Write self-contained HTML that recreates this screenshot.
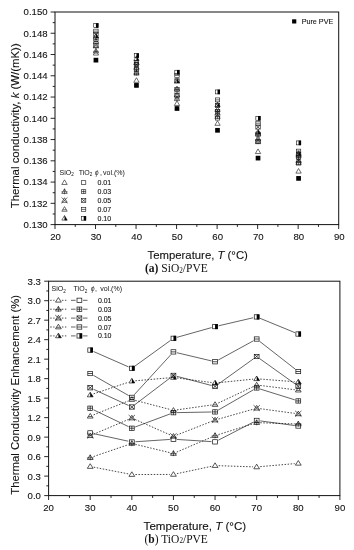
<!DOCTYPE html>
<html lang="en"><head><meta charset="utf-8"><title>Thermal conductivity figure</title>
<style>html,body{margin:0;padding:0;background:#fff}svg{display:block}</style>
</head><body>
<svg width="354" height="550" viewBox="0 0 354 550">
<rect width="354" height="550" fill="#fff"/>
<rect x="55.0" y="12.0" width="283.70" height="212.60" fill="none" stroke="#111" stroke-width="1"/>
<path d="M55.00 224.6v4.4M75.26 224.6v2.3M95.53 224.6v4.4M115.79 224.6v2.3M136.06 224.6v4.4M156.32 224.6v2.3M176.59 224.6v4.4M196.85 224.6v2.3M217.11 224.6v4.4M237.38 224.6v2.3M257.64 224.6v4.4M277.91 224.6v2.3M298.17 224.6v4.4M318.44 224.6v2.3M338.70 224.6v4.4M55.0 224.60h-4.4M55.0 213.97h-2.3M55.0 203.34h-4.4M55.0 192.71h-2.3M55.0 182.08h-4.4M55.0 171.45h-2.3M55.0 160.82h-4.4M55.0 150.19h-2.3M55.0 139.56h-4.4M55.0 128.93h-2.3M55.0 118.30h-4.4M55.0 107.67h-2.3M55.0 97.04h-4.4M55.0 86.41h-2.3M55.0 75.78h-4.4M55.0 65.15h-2.3M55.0 54.52h-4.4M55.0 43.89h-2.3M55.0 33.26h-4.4M55.0 22.63h-2.3M55.0 12.00h-4.4" stroke="#111" stroke-width="0.9" fill="none"/>
<text x="55.60" y="239.60" font-size="9.6" text-anchor="middle" font-family='"Liberation Sans", Arial, Helvetica, sans-serif' fill="#111" stroke="#111" stroke-width="0.1" >20</text>
<text x="96.13" y="239.60" font-size="9.6" text-anchor="middle" font-family='"Liberation Sans", Arial, Helvetica, sans-serif' fill="#111" stroke="#111" stroke-width="0.1" >30</text>
<text x="136.66" y="239.60" font-size="9.6" text-anchor="middle" font-family='"Liberation Sans", Arial, Helvetica, sans-serif' fill="#111" stroke="#111" stroke-width="0.1" >40</text>
<text x="177.19" y="239.60" font-size="9.6" text-anchor="middle" font-family='"Liberation Sans", Arial, Helvetica, sans-serif' fill="#111" stroke="#111" stroke-width="0.1" >50</text>
<text x="217.71" y="239.60" font-size="9.6" text-anchor="middle" font-family='"Liberation Sans", Arial, Helvetica, sans-serif' fill="#111" stroke="#111" stroke-width="0.1" >60</text>
<text x="258.24" y="239.60" font-size="9.6" text-anchor="middle" font-family='"Liberation Sans", Arial, Helvetica, sans-serif' fill="#111" stroke="#111" stroke-width="0.1" >70</text>
<text x="298.77" y="239.60" font-size="9.6" text-anchor="middle" font-family='"Liberation Sans", Arial, Helvetica, sans-serif' fill="#111" stroke="#111" stroke-width="0.1" >80</text>
<text x="339.30" y="239.60" font-size="9.6" text-anchor="middle" font-family='"Liberation Sans", Arial, Helvetica, sans-serif' fill="#111" stroke="#111" stroke-width="0.1" >90</text>
<text x="47.60" y="228.00" font-size="9.6" text-anchor="end" font-family='"Liberation Sans", Arial, Helvetica, sans-serif' fill="#111" stroke="#111" stroke-width="0.1" >0.130</text>
<text x="47.60" y="206.74" font-size="9.6" text-anchor="end" font-family='"Liberation Sans", Arial, Helvetica, sans-serif' fill="#111" stroke="#111" stroke-width="0.1" >0.132</text>
<text x="47.60" y="185.48" font-size="9.6" text-anchor="end" font-family='"Liberation Sans", Arial, Helvetica, sans-serif' fill="#111" stroke="#111" stroke-width="0.1" >0.134</text>
<text x="47.60" y="164.22" font-size="9.6" text-anchor="end" font-family='"Liberation Sans", Arial, Helvetica, sans-serif' fill="#111" stroke="#111" stroke-width="0.1" >0.136</text>
<text x="47.60" y="142.96" font-size="9.6" text-anchor="end" font-family='"Liberation Sans", Arial, Helvetica, sans-serif' fill="#111" stroke="#111" stroke-width="0.1" >0.138</text>
<text x="47.60" y="121.70" font-size="9.6" text-anchor="end" font-family='"Liberation Sans", Arial, Helvetica, sans-serif' fill="#111" stroke="#111" stroke-width="0.1" >0.140</text>
<text x="47.60" y="100.44" font-size="9.6" text-anchor="end" font-family='"Liberation Sans", Arial, Helvetica, sans-serif' fill="#111" stroke="#111" stroke-width="0.1" >0.142</text>
<text x="47.60" y="79.18" font-size="9.6" text-anchor="end" font-family='"Liberation Sans", Arial, Helvetica, sans-serif' fill="#111" stroke="#111" stroke-width="0.1" >0.144</text>
<text x="47.60" y="57.92" font-size="9.6" text-anchor="end" font-family='"Liberation Sans", Arial, Helvetica, sans-serif' fill="#111" stroke="#111" stroke-width="0.1" >0.146</text>
<text x="47.60" y="36.66" font-size="9.6" text-anchor="end" font-family='"Liberation Sans", Arial, Helvetica, sans-serif' fill="#111" stroke="#111" stroke-width="0.1" >0.148</text>
<text x="47.60" y="15.40" font-size="9.6" text-anchor="end" font-family='"Liberation Sans", Arial, Helvetica, sans-serif' fill="#111" stroke="#111" stroke-width="0.1" >0.150</text>
<text x="197.70" y="259.20" font-size="11.35" text-anchor="middle" font-family='"Liberation Sans", Arial, Helvetica, sans-serif' fill="#111" stroke="#111" stroke-width="0.1" >Temperature, <tspan font-style="italic">T</tspan> (°C)</text>
<text transform="translate(18.7 125.8) rotate(-90)" font-size="11.4" text-anchor="middle" font-family='"Liberation Sans", Arial, Helvetica, sans-serif' fill="#111" stroke="#111" stroke-width="0.1">Thermal conductivity, <tspan font-style="italic">k</tspan> (W/(mK))</text>
<text x="145" y="272.1" font-size="11.5" font-family='"Liberation Serif", "Times New Roman", serif' fill="#111"><tspan font-weight="bold">(a)</tspan> SiO<tspan font-size="7.2" dy="0.5">2</tspan><tspan dy="-0.5">/PVE</tspan></text>
<rect x="93.58" y="57.80" width="4.70" height="4.70" fill="#000"/>
<polygon points="95.93,50.47 98.58,55.07 93.28,55.07" fill="none" stroke="#111" stroke-width="0.6" stroke-linejoin="miter"/>
<polygon points="95.93,48.36 98.58,52.96 93.28,52.96" fill="none" stroke="#111" stroke-width="0.6" stroke-linejoin="miter"/><path d="M93.12 51.32H98.74M95.93 48.16V53.28" stroke="#111" stroke-width="0.54" fill="none"/>
<polygon points="95.93,43.14 98.58,47.74 93.28,47.74" fill="none" stroke="#111" stroke-width="0.6" stroke-linejoin="miter"/><path d="M93.16 43.02L98.70 48.10M98.70 43.02L93.16 48.10" stroke="#111" stroke-width="0.54" fill="none"/>
<polygon points="95.93,38.50 98.58,43.10 93.28,43.10" fill="none" stroke="#111" stroke-width="0.6" stroke-linejoin="miter"/><path d="M94.17 41.56H97.69" stroke="#111" stroke-width="0.54" fill="none"/>
<polygon points="95.93,33.44 98.58,38.04 93.28,38.04" fill="none" stroke="#111" stroke-width="0.6" stroke-linejoin="miter"/><polygon points="95.93,33.44 98.58,38.04 95.93,38.04" fill="#000"/>
<rect x="93.73" y="43.25" width="4.40" height="3.96" fill="none" stroke="#111" stroke-width="0.6"/>
<rect x="93.73" y="37.38" width="4.40" height="3.96" fill="none" stroke="#111" stroke-width="0.6"/><path d="M93.73 39.36H98.13M95.93 37.38V41.34" stroke="#111" stroke-width="0.63" fill="none"/>
<rect x="93.73" y="32.50" width="4.40" height="3.96" fill="none" stroke="#111" stroke-width="0.6"/><path d="M93.73 32.50L98.13 36.46M98.13 32.50L93.73 36.46" stroke="#111" stroke-width="0.63" fill="none"/>
<rect x="93.73" y="29.12" width="4.40" height="3.96" fill="none" stroke="#111" stroke-width="0.6"/><path d="M93.73 31.10H98.13" stroke="#111" stroke-width="0.63" fill="none"/>
<rect x="93.73" y="23.54" width="4.40" height="3.96" fill="none" stroke="#111" stroke-width="0.6"/><rect x="95.93" y="23.24" width="2.50" height="4.56" fill="#000"/>
<rect x="134.11" y="83.05" width="4.70" height="4.70" fill="#000"/>
<polygon points="136.46,77.71 139.11,82.31 133.81,82.31" fill="none" stroke="#111" stroke-width="0.6" stroke-linejoin="miter"/>
<polygon points="136.46,70.44 139.11,75.04 133.81,75.04" fill="none" stroke="#111" stroke-width="0.6" stroke-linejoin="miter"/><path d="M133.65 73.40H139.27M136.46 70.24V75.36" stroke="#111" stroke-width="0.54" fill="none"/>
<polygon points="136.46,64.48 139.11,69.08 133.81,69.08" fill="none" stroke="#111" stroke-width="0.6" stroke-linejoin="miter"/><path d="M133.69 64.36L139.23 69.44M139.23 64.36L133.69 69.44" stroke="#111" stroke-width="0.54" fill="none"/>
<polygon points="136.46,60.14 139.11,64.74 133.81,64.74" fill="none" stroke="#111" stroke-width="0.6" stroke-linejoin="miter"/><path d="M134.69 63.20H138.22" stroke="#111" stroke-width="0.54" fill="none"/>
<polygon points="136.46,55.84 139.11,60.44 133.81,60.44" fill="none" stroke="#111" stroke-width="0.6" stroke-linejoin="miter"/><polygon points="136.46,55.84 139.11,60.44 136.46,60.44" fill="#000"/>
<rect x="134.26" y="70.87" width="4.40" height="3.96" fill="none" stroke="#111" stroke-width="0.6"/>
<rect x="134.26" y="67.65" width="4.40" height="3.96" fill="none" stroke="#111" stroke-width="0.6"/><path d="M134.26 69.63H138.66M136.46 67.65V71.61" stroke="#111" stroke-width="0.63" fill="none"/>
<rect x="134.26" y="62.67" width="4.40" height="3.96" fill="none" stroke="#111" stroke-width="0.6"/><path d="M134.26 62.67L138.66 66.63M138.66 62.67L134.26 66.63" stroke="#111" stroke-width="0.63" fill="none"/>
<rect x="134.26" y="60.42" width="4.40" height="3.96" fill="none" stroke="#111" stroke-width="0.6"/><path d="M134.26 62.40H138.66" stroke="#111" stroke-width="0.63" fill="none"/>
<rect x="134.26" y="53.62" width="4.40" height="3.96" fill="none" stroke="#111" stroke-width="0.6"/><rect x="136.46" y="53.32" width="2.50" height="4.56" fill="#000"/>
<rect x="174.64" y="106.15" width="4.70" height="4.70" fill="#000"/>
<polygon points="176.99,100.86 179.64,105.46 174.34,105.46" fill="none" stroke="#111" stroke-width="0.6" stroke-linejoin="miter"/>
<polygon points="176.99,96.03 179.64,100.63 174.34,100.63" fill="none" stroke="#111" stroke-width="0.6" stroke-linejoin="miter"/><path d="M174.18 98.99H179.80M176.99 95.83V100.95" stroke="#111" stroke-width="0.54" fill="none"/>
<polygon points="176.99,92.08 179.64,96.68 174.34,96.68" fill="none" stroke="#111" stroke-width="0.6" stroke-linejoin="miter"/><path d="M174.22 91.96L179.76 97.04M179.76 91.96L174.22 97.04" stroke="#111" stroke-width="0.54" fill="none"/>
<polygon points="176.99,86.09 179.64,90.69 174.34,90.69" fill="none" stroke="#111" stroke-width="0.6" stroke-linejoin="miter"/><path d="M175.22 89.15H178.75" stroke="#111" stroke-width="0.54" fill="none"/>
<polygon points="176.99,78.49 179.64,83.09 174.34,83.09" fill="none" stroke="#111" stroke-width="0.6" stroke-linejoin="miter"/><polygon points="176.99,78.49 179.64,83.09 176.99,83.09" fill="#000"/>
<rect x="174.79" y="93.52" width="4.40" height="3.96" fill="none" stroke="#111" stroke-width="0.6"/>
<rect x="174.79" y="87.40" width="4.40" height="3.96" fill="none" stroke="#111" stroke-width="0.6"/><path d="M174.79 89.38H179.19M176.99 87.40V91.36" stroke="#111" stroke-width="0.63" fill="none"/>
<rect x="174.79" y="78.81" width="4.40" height="3.96" fill="none" stroke="#111" stroke-width="0.6"/><path d="M174.79 78.81L179.19 82.77M179.19 78.81L174.79 82.77" stroke="#111" stroke-width="0.63" fill="none"/>
<rect x="174.79" y="73.38" width="4.40" height="3.96" fill="none" stroke="#111" stroke-width="0.6"/><path d="M174.79 75.36H179.19" stroke="#111" stroke-width="0.63" fill="none"/>
<rect x="174.79" y="70.25" width="4.40" height="3.96" fill="none" stroke="#111" stroke-width="0.6"/><rect x="176.99" y="69.95" width="2.50" height="4.56" fill="#000"/>
<rect x="215.16" y="127.95" width="4.70" height="4.70" fill="#000"/>
<polygon points="217.51,120.72 220.16,125.32 214.86,125.32" fill="none" stroke="#111" stroke-width="0.6" stroke-linejoin="miter"/>
<polygon points="217.51,113.92 220.16,118.52 214.86,118.52" fill="none" stroke="#111" stroke-width="0.6" stroke-linejoin="miter"/><path d="M214.70 116.88H220.32M217.51 113.72V118.84" stroke="#111" stroke-width="0.54" fill="none"/>
<polygon points="217.51,110.37 220.16,114.97 214.86,114.97" fill="none" stroke="#111" stroke-width="0.6" stroke-linejoin="miter"/><path d="M214.74 110.25L220.28 115.33M220.28 110.25L214.74 115.33" stroke="#111" stroke-width="0.54" fill="none"/>
<polygon points="217.51,106.84 220.16,111.44 214.86,111.44" fill="none" stroke="#111" stroke-width="0.6" stroke-linejoin="miter"/><path d="M215.75 109.90H219.28" stroke="#111" stroke-width="0.54" fill="none"/>
<polygon points="217.51,101.96 220.16,106.56 214.86,106.56" fill="none" stroke="#111" stroke-width="0.6" stroke-linejoin="miter"/><polygon points="217.51,101.96 220.16,106.56 217.51,106.56" fill="#000"/>
<rect x="215.31" y="116.11" width="4.40" height="3.96" fill="none" stroke="#111" stroke-width="0.6"/>
<rect x="215.31" y="109.31" width="4.40" height="3.96" fill="none" stroke="#111" stroke-width="0.6"/><path d="M215.31 111.29H219.71M217.51 109.31V113.27" stroke="#111" stroke-width="0.63" fill="none"/>
<rect x="215.31" y="103.52" width="4.40" height="3.96" fill="none" stroke="#111" stroke-width="0.6"/><path d="M215.31 103.52L219.71 107.48M219.71 103.52L215.31 107.48" stroke="#111" stroke-width="0.63" fill="none"/>
<rect x="215.31" y="97.91" width="4.40" height="3.96" fill="none" stroke="#111" stroke-width="0.6"/><path d="M215.31 99.89H219.71" stroke="#111" stroke-width="0.63" fill="none"/>
<rect x="215.31" y="89.93" width="4.40" height="3.96" fill="none" stroke="#111" stroke-width="0.6"/><rect x="217.51" y="89.63" width="2.50" height="4.56" fill="#000"/>
<rect x="255.69" y="155.75" width="4.70" height="4.70" fill="#000"/>
<polygon points="258.04,148.95 260.69,153.55 255.39,153.55" fill="none" stroke="#111" stroke-width="0.6" stroke-linejoin="miter"/>
<polygon points="258.04,139.07 260.69,143.67 255.39,143.67" fill="none" stroke="#111" stroke-width="0.6" stroke-linejoin="miter"/><path d="M255.23 142.03H260.85M258.04 138.87V143.99" stroke="#111" stroke-width="0.54" fill="none"/>
<polygon points="258.04,135.86 260.69,140.46 255.39,140.46" fill="none" stroke="#111" stroke-width="0.6" stroke-linejoin="miter"/><path d="M255.27 135.74L260.81 140.82M260.81 135.74L255.27 140.82" stroke="#111" stroke-width="0.54" fill="none"/>
<polygon points="258.04,130.69 260.69,135.29 255.39,135.29" fill="none" stroke="#111" stroke-width="0.6" stroke-linejoin="miter"/><path d="M256.28 133.75H259.81" stroke="#111" stroke-width="0.54" fill="none"/>
<polygon points="258.04,129.30 260.69,133.90 255.39,133.90" fill="none" stroke="#111" stroke-width="0.6" stroke-linejoin="miter"/><polygon points="258.04,129.30 260.69,133.90 258.04,133.90" fill="#000"/>
<rect x="255.84" y="139.36" width="4.40" height="3.96" fill="none" stroke="#111" stroke-width="0.6"/>
<rect x="255.84" y="132.12" width="4.40" height="3.96" fill="none" stroke="#111" stroke-width="0.6"/><path d="M255.84 134.10H260.24M258.04 132.12V136.08" stroke="#111" stroke-width="0.63" fill="none"/>
<rect x="255.84" y="125.11" width="4.40" height="3.96" fill="none" stroke="#111" stroke-width="0.6"/><path d="M255.84 125.11L260.24 129.07M260.24 125.11L255.84 129.07" stroke="#111" stroke-width="0.63" fill="none"/>
<rect x="255.84" y="121.21" width="4.40" height="3.96" fill="none" stroke="#111" stroke-width="0.6"/><path d="M255.84 123.19H260.24" stroke="#111" stroke-width="0.63" fill="none"/>
<rect x="255.84" y="116.29" width="4.40" height="3.96" fill="none" stroke="#111" stroke-width="0.6"/><rect x="258.04" y="115.99" width="2.50" height="4.56" fill="#000"/>
<rect x="296.22" y="176.05" width="4.70" height="4.70" fill="#000"/>
<polygon points="298.57,168.54 301.22,173.14 295.92,173.14" fill="none" stroke="#111" stroke-width="0.6" stroke-linejoin="miter"/>
<polygon points="298.57,159.90 301.22,164.50 295.92,164.50" fill="none" stroke="#111" stroke-width="0.6" stroke-linejoin="miter"/><path d="M295.76 162.86H301.38M298.57 159.70V164.82" stroke="#111" stroke-width="0.54" fill="none"/>
<polygon points="298.57,157.68 301.22,162.28 295.92,162.28" fill="none" stroke="#111" stroke-width="0.6" stroke-linejoin="miter"/><path d="M295.80 157.56L301.34 162.64M301.34 157.56L295.80 162.64" stroke="#111" stroke-width="0.54" fill="none"/>
<polygon points="298.57,152.46 301.22,157.06 295.92,157.06" fill="none" stroke="#111" stroke-width="0.6" stroke-linejoin="miter"/><path d="M296.81 155.52H300.33" stroke="#111" stroke-width="0.54" fill="none"/>
<polygon points="298.57,150.68 301.22,155.28 295.92,155.28" fill="none" stroke="#111" stroke-width="0.6" stroke-linejoin="miter"/><polygon points="298.57,150.68 301.22,155.28 298.57,155.28" fill="#000"/>
<rect x="296.37" y="161.13" width="4.40" height="3.96" fill="none" stroke="#111" stroke-width="0.6"/>
<rect x="296.37" y="155.61" width="4.40" height="3.96" fill="none" stroke="#111" stroke-width="0.6"/><path d="M296.37 157.59H300.77M298.57 155.61V159.57" stroke="#111" stroke-width="0.63" fill="none"/>
<rect x="296.37" y="152.37" width="4.40" height="3.96" fill="none" stroke="#111" stroke-width="0.6"/><path d="M296.37 152.37L300.77 156.33M300.77 152.37L296.37 156.33" stroke="#111" stroke-width="0.63" fill="none"/>
<rect x="296.37" y="149.15" width="4.40" height="3.96" fill="none" stroke="#111" stroke-width="0.6"/><path d="M296.37 151.13H300.77" stroke="#111" stroke-width="0.63" fill="none"/>
<rect x="296.37" y="140.91" width="4.40" height="3.96" fill="none" stroke="#111" stroke-width="0.6"/><rect x="298.57" y="140.61" width="2.50" height="4.56" fill="#000"/>
<rect x="292.10" y="19.30" width="4.20" height="4.20" fill="#000"/>
<text x="301.70" y="23.90" font-size="7.2" text-anchor="start" font-family='"Liberation Sans", Arial, Helvetica, sans-serif' fill="#111" stroke="#111" stroke-width="0.1" >Pure PVE</text>
<text x="59.5" y="174.8" font-size="7.0" font-family='"Liberation Sans", Arial, Helvetica, sans-serif' fill="#111">SiO<tspan font-size="4.6" dy="1.6">2</tspan></text>
<text x="78.7" y="174.8" font-size="7.0" font-family='"Liberation Sans", Arial, Helvetica, sans-serif' fill="#111">TiO<tspan font-size="4.6" dy="1.6">2</tspan></text>
<text y="174.8" font-size="7.0" font-family='"Liberation Sans", Arial, Helvetica, sans-serif' fill="#111"><tspan x="94.8" font-style="italic" fill="#333">ϕ</tspan><tspan x="100.0">,</tspan><tspan x="103.0">vol.(%)</tspan></text>
<polygon points="64.50,179.84 67.20,184.44 61.80,184.44" fill="none" stroke="#111" stroke-width="0.6" stroke-linejoin="miter"/>
<rect x="81.60" y="180.71" width="4.20" height="3.78" fill="none" stroke="#111" stroke-width="0.6"/>
<text x="97.50" y="185.10" font-size="7.0" text-anchor="start" font-family='"Liberation Sans", Arial, Helvetica, sans-serif' fill="#111" stroke="#111" stroke-width="0.1" >0.01</text>
<polygon points="64.50,188.84 67.20,193.44 61.80,193.44" fill="none" stroke="#111" stroke-width="0.6" stroke-linejoin="miter"/><path d="M61.40 191.80H67.60M64.50 188.64V194.24" stroke="#111" stroke-width="0.54" fill="none"/>
<rect x="81.60" y="189.71" width="4.20" height="3.78" fill="none" stroke="#111" stroke-width="0.6"/><path d="M81.60 191.60H85.80M83.70 189.71V193.49" stroke="#111" stroke-width="0.63" fill="none"/>
<text x="97.50" y="194.10" font-size="7.0" text-anchor="start" font-family='"Liberation Sans", Arial, Helvetica, sans-serif' fill="#111" stroke="#111" stroke-width="0.1" >0.03</text>
<polygon points="64.50,197.74 67.20,202.34 61.80,202.34" fill="none" stroke="#111" stroke-width="0.6" stroke-linejoin="miter"/><path d="M61.50 197.44L67.50 203.24M67.50 197.44L61.50 203.24" stroke="#111" stroke-width="0.54" fill="none"/>
<rect x="81.60" y="198.61" width="4.20" height="3.78" fill="none" stroke="#111" stroke-width="0.6"/><path d="M81.60 198.61L85.80 202.39M85.80 198.61L81.60 202.39" stroke="#111" stroke-width="0.63" fill="none"/>
<text x="97.50" y="203.00" font-size="7.0" text-anchor="start" font-family='"Liberation Sans", Arial, Helvetica, sans-serif' fill="#111" stroke="#111" stroke-width="0.1" >0.05</text>
<polygon points="64.50,206.64 67.20,211.24 61.80,211.24" fill="none" stroke="#111" stroke-width="0.6" stroke-linejoin="miter"/><path d="M62.70 209.70H66.30" stroke="#111" stroke-width="0.54" fill="none"/>
<rect x="81.60" y="207.51" width="4.20" height="3.78" fill="none" stroke="#111" stroke-width="0.6"/><path d="M81.60 209.40H85.80" stroke="#111" stroke-width="0.63" fill="none"/>
<text x="97.50" y="211.90" font-size="7.0" text-anchor="start" font-family='"Liberation Sans", Arial, Helvetica, sans-serif' fill="#111" stroke="#111" stroke-width="0.1" >0.07</text>
<polygon points="64.50,215.54 67.20,220.14 61.80,220.14" fill="none" stroke="#111" stroke-width="0.6" stroke-linejoin="miter"/><polygon points="64.50,215.54 67.20,220.14 64.50,220.14" fill="#000"/>
<rect x="81.60" y="216.41" width="4.20" height="3.78" fill="none" stroke="#111" stroke-width="0.6"/><rect x="83.70" y="216.11" width="2.40" height="4.38" fill="#000"/>
<text x="97.50" y="220.80" font-size="7.0" text-anchor="start" font-family='"Liberation Sans", Arial, Helvetica, sans-serif' fill="#111" stroke="#111" stroke-width="0.1" >0.10</text>
<rect x="48.6" y="281.2" width="291.30" height="214.40" fill="none" stroke="#111" stroke-width="1"/>
<path d="M48.60 495.6v4.4M69.41 495.6v2.3M90.21 495.6v4.4M111.02 495.6v2.3M131.83 495.6v4.4M152.64 495.6v2.3M173.44 495.6v4.4M194.25 495.6v2.3M215.06 495.6v4.4M235.86 495.6v2.3M256.67 495.6v4.4M277.48 495.6v2.3M298.29 495.6v4.4M319.09 495.6v2.3M339.90 495.6v4.4M48.6 495.60h-4.4M48.6 485.85h-2.3M48.6 476.11h-4.4M48.6 466.36h-2.3M48.6 456.62h-4.4M48.6 446.87h-2.3M48.6 437.13h-4.4M48.6 427.38h-2.3M48.6 417.64h-4.4M48.6 407.89h-2.3M48.6 398.15h-4.4M48.6 388.40h-2.3M48.6 378.65h-4.4M48.6 368.91h-2.3M48.6 359.16h-4.4M48.6 349.42h-2.3M48.6 339.67h-4.4M48.6 329.93h-2.3M48.6 320.18h-4.4M48.6 310.44h-2.3M48.6 300.69h-4.4M48.6 290.95h-2.3M48.6 281.20h-4.4" stroke="#111" stroke-width="0.9" fill="none"/>
<text x="48.60" y="510.60" font-size="9.6" text-anchor="middle" font-family='"Liberation Sans", Arial, Helvetica, sans-serif' fill="#111" stroke="#111" stroke-width="0.1" >20</text>
<text x="90.21" y="510.60" font-size="9.6" text-anchor="middle" font-family='"Liberation Sans", Arial, Helvetica, sans-serif' fill="#111" stroke="#111" stroke-width="0.1" >30</text>
<text x="131.83" y="510.60" font-size="9.6" text-anchor="middle" font-family='"Liberation Sans", Arial, Helvetica, sans-serif' fill="#111" stroke="#111" stroke-width="0.1" >40</text>
<text x="173.44" y="510.60" font-size="9.6" text-anchor="middle" font-family='"Liberation Sans", Arial, Helvetica, sans-serif' fill="#111" stroke="#111" stroke-width="0.1" >50</text>
<text x="215.06" y="510.60" font-size="9.6" text-anchor="middle" font-family='"Liberation Sans", Arial, Helvetica, sans-serif' fill="#111" stroke="#111" stroke-width="0.1" >60</text>
<text x="256.67" y="510.60" font-size="9.6" text-anchor="middle" font-family='"Liberation Sans", Arial, Helvetica, sans-serif' fill="#111" stroke="#111" stroke-width="0.1" >70</text>
<text x="298.29" y="510.60" font-size="9.6" text-anchor="middle" font-family='"Liberation Sans", Arial, Helvetica, sans-serif' fill="#111" stroke="#111" stroke-width="0.1" >80</text>
<text x="339.90" y="510.60" font-size="9.6" text-anchor="middle" font-family='"Liberation Sans", Arial, Helvetica, sans-serif' fill="#111" stroke="#111" stroke-width="0.1" >90</text>
<text x="40.90" y="499.00" font-size="9.6" text-anchor="end" font-family='"Liberation Sans", Arial, Helvetica, sans-serif' fill="#111" stroke="#111" stroke-width="0.1" >0.0</text>
<text x="40.90" y="479.51" font-size="9.6" text-anchor="end" font-family='"Liberation Sans", Arial, Helvetica, sans-serif' fill="#111" stroke="#111" stroke-width="0.1" >0.3</text>
<text x="40.90" y="460.02" font-size="9.6" text-anchor="end" font-family='"Liberation Sans", Arial, Helvetica, sans-serif' fill="#111" stroke="#111" stroke-width="0.1" >0.6</text>
<text x="40.90" y="440.53" font-size="9.6" text-anchor="end" font-family='"Liberation Sans", Arial, Helvetica, sans-serif' fill="#111" stroke="#111" stroke-width="0.1" >0.9</text>
<text x="40.90" y="421.04" font-size="9.6" text-anchor="end" font-family='"Liberation Sans", Arial, Helvetica, sans-serif' fill="#111" stroke="#111" stroke-width="0.1" >1.2</text>
<text x="40.90" y="401.55" font-size="9.6" text-anchor="end" font-family='"Liberation Sans", Arial, Helvetica, sans-serif' fill="#111" stroke="#111" stroke-width="0.1" >1.5</text>
<text x="40.90" y="382.05" font-size="9.6" text-anchor="end" font-family='"Liberation Sans", Arial, Helvetica, sans-serif' fill="#111" stroke="#111" stroke-width="0.1" >1.8</text>
<text x="40.90" y="362.56" font-size="9.6" text-anchor="end" font-family='"Liberation Sans", Arial, Helvetica, sans-serif' fill="#111" stroke="#111" stroke-width="0.1" >2.1</text>
<text x="40.90" y="343.07" font-size="9.6" text-anchor="end" font-family='"Liberation Sans", Arial, Helvetica, sans-serif' fill="#111" stroke="#111" stroke-width="0.1" >2.4</text>
<text x="40.90" y="323.58" font-size="9.6" text-anchor="end" font-family='"Liberation Sans", Arial, Helvetica, sans-serif' fill="#111" stroke="#111" stroke-width="0.1" >2.7</text>
<text x="40.90" y="304.09" font-size="9.6" text-anchor="end" font-family='"Liberation Sans", Arial, Helvetica, sans-serif' fill="#111" stroke="#111" stroke-width="0.1" >3.0</text>
<text x="40.90" y="284.60" font-size="9.6" text-anchor="end" font-family='"Liberation Sans", Arial, Helvetica, sans-serif' fill="#111" stroke="#111" stroke-width="0.1" >3.3</text>
<text x="194.90" y="530.30" font-size="11.6" text-anchor="middle" font-family='"Liberation Sans", Arial, Helvetica, sans-serif' fill="#111" stroke="#111" stroke-width="0.1" >Temperature, <tspan font-style="italic">T</tspan> (°C)</text>
<text transform="translate(18.8 394.8) rotate(-90)" font-size="11.3" text-anchor="middle" font-family='"Liberation Sans", Arial, Helvetica, sans-serif' fill="#111" stroke="#111" stroke-width="0.1">Thermal Conductivity Enhancement (%)</text>
<text x="144.5" y="542.5" font-size="11.5" font-family='"Liberation Serif", "Times New Roman", serif' fill="#111">(<tspan font-weight="bold">b</tspan>) TiO<tspan font-size="7.2" dy="0.5">2</tspan><tspan dy="-0.5">/PVE</tspan></text>
<path d="M93.75 467.18L128.29 473.87M135.43 474.54L169.84 474.43M176.96 473.67L211.54 466.33M218.66 465.70L253.07 466.83M260.26 466.63L294.70 463.62" stroke="#111" stroke-width="0.77" stroke-dasharray="1.5 1.55" fill="none"/>
<path d="M93.62 456.50L128.42 444.65M135.33 444.34L169.94 452.66M176.75 452.08L211.75 437.05M218.49 434.56L253.24 423.71M260.27 422.76L294.69 423.89" stroke="#111" stroke-width="0.77" stroke-dasharray="1.5 1.55" fill="none"/>
<path d="M93.53 434.29L128.51 419.43M135.12 419.48L170.15 434.90M176.79 435.03L211.71 421.35M218.52 419.06L253.21 409.20M260.24 408.70L294.72 413.38" stroke="#111" stroke-width="0.77" stroke-dasharray="1.5 1.55" fill="none"/>
<path d="M93.56 414.87L128.49 400.85M135.31 400.42L169.96 409.45M177.01 409.86L211.49 405.01M218.32 402.99L253.41 386.55M260.24 385.46L294.71 389.71" stroke="#111" stroke-width="0.77" stroke-dasharray="1.5 1.55" fill="none"/>
<path d="M93.63 393.83L128.41 382.26M135.41 380.80L169.86 377.74M177.01 377.90L211.49 382.53M218.64 382.64L253.09 379.15M260.26 379.06L294.70 381.75" stroke="#111" stroke-width="0.77" stroke-dasharray="1.5 1.55" fill="none"/>
<path d="M93.73 433.67L128.31 441.23M135.42 441.76L169.85 439.45M177.04 439.44L211.46 441.64M218.26 440.22L253.47 422.08M260.24 420.91L294.72 425.54" stroke="#111" stroke-width="0.65" fill="none"/>
<path d="M93.46 409.78L128.58 426.67M135.20 426.97L170.07 413.96M177.04 412.63L211.46 411.99M218.18 410.12L253.55 389.74M260.11 389.02L294.85 399.87" stroke="#111" stroke-width="0.65" fill="none"/>
<path d="M93.48 389.26L128.56 405.47M134.70 404.81L170.57 377.58M176.92 376.33L211.58 385.53M217.98 384.35L253.75 358.60M259.60 358.59L295.36 384.10" stroke="#111" stroke-width="0.65" fill="none"/>
<path d="M93.34 375.31L128.70 395.58M134.26 394.71L171.01 354.54M176.95 352.72L211.55 360.93M218.22 360.04L253.51 340.75M259.51 341.24L295.45 369.29" stroke="#111" stroke-width="0.65" fill="none"/>
<path d="M93.51 351.51L128.53 366.88M134.75 366.22L170.52 340.41M176.91 337.33L211.59 327.59M218.56 325.80L253.17 317.75M260.00 318.30L294.96 332.65" stroke="#111" stroke-width="0.65" fill="none"/>
<polygon points="90.21,463.73 93.11,468.33 87.31,468.33" fill="none" stroke="#111" stroke-width="0.7" stroke-linejoin="miter"/>
<polygon points="131.83,471.79 134.73,476.39 128.93,476.39" fill="none" stroke="#111" stroke-width="0.7" stroke-linejoin="miter"/>
<polygon points="173.44,471.66 176.34,476.26 170.54,476.26" fill="none" stroke="#111" stroke-width="0.7" stroke-linejoin="miter"/>
<polygon points="215.06,462.82 217.96,467.42 212.16,467.42" fill="none" stroke="#111" stroke-width="0.7" stroke-linejoin="miter"/>
<polygon points="256.67,464.19 259.57,468.79 253.77,468.79" fill="none" stroke="#111" stroke-width="0.7" stroke-linejoin="miter"/>
<polygon points="298.29,460.55 301.19,465.15 295.39,465.15" fill="none" stroke="#111" stroke-width="0.7" stroke-linejoin="miter"/>
<polygon points="90.21,454.90 93.11,459.50 87.31,459.50" fill="none" stroke="#111" stroke-width="0.7" stroke-linejoin="miter"/><path d="M86.91 457.86H93.51M90.21 454.70V460.30" stroke="#111" stroke-width="0.63" fill="none"/>
<polygon points="131.83,440.73 134.73,445.33 128.93,445.33" fill="none" stroke="#111" stroke-width="0.7" stroke-linejoin="miter"/><path d="M128.53 443.69H135.13M131.83 440.53V446.13" stroke="#111" stroke-width="0.63" fill="none"/>
<polygon points="173.44,450.74 176.34,455.34 170.54,455.34" fill="none" stroke="#111" stroke-width="0.7" stroke-linejoin="miter"/><path d="M170.14 453.70H176.74M173.44 450.54V456.14" stroke="#111" stroke-width="0.63" fill="none"/>
<polygon points="215.06,432.87 217.96,437.47 212.16,437.47" fill="none" stroke="#111" stroke-width="0.7" stroke-linejoin="miter"/><path d="M211.76 435.83H218.36M215.06 432.67V438.27" stroke="#111" stroke-width="0.63" fill="none"/>
<polygon points="256.67,419.88 259.57,424.48 253.77,424.48" fill="none" stroke="#111" stroke-width="0.7" stroke-linejoin="miter"/><path d="M253.37 422.84H259.97M256.67 419.68V425.28" stroke="#111" stroke-width="0.63" fill="none"/>
<polygon points="298.29,421.24 301.19,425.84 295.39,425.84" fill="none" stroke="#111" stroke-width="0.7" stroke-linejoin="miter"/><path d="M294.99 424.20H301.59M298.29 421.04V426.64" stroke="#111" stroke-width="0.63" fill="none"/>
<polygon points="90.21,432.94 93.11,437.54 87.31,437.54" fill="none" stroke="#111" stroke-width="0.7" stroke-linejoin="miter"/><path d="M87.01 432.64L93.41 438.44M93.41 432.64L87.01 438.44" stroke="#111" stroke-width="0.63" fill="none"/>
<polygon points="131.83,415.27 134.73,419.87 128.93,419.87" fill="none" stroke="#111" stroke-width="0.7" stroke-linejoin="miter"/><path d="M128.63 414.97L135.03 420.77M135.03 414.97L128.63 420.77" stroke="#111" stroke-width="0.63" fill="none"/>
<polygon points="173.44,433.59 176.34,438.19 170.54,438.19" fill="none" stroke="#111" stroke-width="0.7" stroke-linejoin="miter"/><path d="M170.24 433.29L176.64 439.09M176.64 433.29L170.24 439.09" stroke="#111" stroke-width="0.63" fill="none"/>
<polygon points="215.06,417.28 217.96,421.88 212.16,421.88" fill="none" stroke="#111" stroke-width="0.7" stroke-linejoin="miter"/><path d="M211.86 416.98L218.26 422.78M218.26 416.98L211.86 422.78" stroke="#111" stroke-width="0.63" fill="none"/>
<polygon points="256.67,405.46 259.57,410.06 253.77,410.06" fill="none" stroke="#111" stroke-width="0.7" stroke-linejoin="miter"/><path d="M253.47 405.16L259.87 410.96M259.87 405.16L253.47 410.96" stroke="#111" stroke-width="0.63" fill="none"/>
<polygon points="298.29,411.11 301.19,415.71 295.39,415.71" fill="none" stroke="#111" stroke-width="0.7" stroke-linejoin="miter"/><path d="M295.09 410.81L301.49 416.61M301.49 410.81L295.09 416.61" stroke="#111" stroke-width="0.63" fill="none"/>
<polygon points="90.21,413.45 93.11,418.05 87.31,418.05" fill="none" stroke="#111" stroke-width="0.7" stroke-linejoin="miter"/><path d="M88.29 416.51H92.14" stroke="#111" stroke-width="0.63" fill="none"/>
<polygon points="131.83,396.75 134.73,401.35 128.93,401.35" fill="none" stroke="#111" stroke-width="0.7" stroke-linejoin="miter"/><path d="M129.90 399.81H133.76" stroke="#111" stroke-width="0.63" fill="none"/>
<polygon points="173.44,407.60 176.34,412.20 170.54,412.20" fill="none" stroke="#111" stroke-width="0.7" stroke-linejoin="miter"/><path d="M171.51 410.66H175.37" stroke="#111" stroke-width="0.63" fill="none"/>
<polygon points="215.06,401.75 217.96,406.35 212.16,406.35" fill="none" stroke="#111" stroke-width="0.7" stroke-linejoin="miter"/><path d="M213.13 404.81H216.99" stroke="#111" stroke-width="0.63" fill="none"/>
<polygon points="256.67,382.26 259.57,386.86 253.77,386.86" fill="none" stroke="#111" stroke-width="0.7" stroke-linejoin="miter"/><path d="M254.74 385.32H258.60" stroke="#111" stroke-width="0.63" fill="none"/>
<polygon points="298.29,387.39 301.19,391.99 295.39,391.99" fill="none" stroke="#111" stroke-width="0.7" stroke-linejoin="miter"/><path d="M296.36 390.45H300.21" stroke="#111" stroke-width="0.63" fill="none"/>
<polygon points="90.21,392.20 93.11,396.80 87.31,396.80" fill="none" stroke="#111" stroke-width="0.7" stroke-linejoin="miter"/><polygon points="90.21,392.20 93.11,396.80 90.21,396.80" fill="#000"/>
<polygon points="131.83,378.36 134.73,382.96 128.93,382.96" fill="none" stroke="#111" stroke-width="0.7" stroke-linejoin="miter"/><polygon points="131.83,378.36 134.73,382.96 131.83,382.96" fill="#000"/>
<polygon points="173.44,374.66 176.34,379.26 170.54,379.26" fill="none" stroke="#111" stroke-width="0.7" stroke-linejoin="miter"/><polygon points="173.44,374.66 176.34,379.26 173.44,379.26" fill="#000"/>
<polygon points="215.06,380.25 217.96,384.85 212.16,384.85" fill="none" stroke="#111" stroke-width="0.7" stroke-linejoin="miter"/><polygon points="215.06,380.25 217.96,384.85 215.06,384.85" fill="#000"/>
<polygon points="256.67,376.02 259.57,380.62 253.77,380.62" fill="none" stroke="#111" stroke-width="0.7" stroke-linejoin="miter"/><polygon points="256.67,376.02 259.57,380.62 256.67,380.62" fill="#000"/>
<polygon points="298.29,379.27 301.19,383.87 295.39,383.87" fill="none" stroke="#111" stroke-width="0.7" stroke-linejoin="miter"/><polygon points="298.29,379.27 301.19,383.87 298.29,383.87" fill="#000"/>
<rect x="87.81" y="430.74" width="4.80" height="4.32" fill="none" stroke="#111" stroke-width="0.7"/>
<rect x="129.43" y="439.84" width="4.80" height="4.32" fill="none" stroke="#111" stroke-width="0.7"/>
<rect x="171.04" y="437.05" width="4.80" height="4.32" fill="none" stroke="#111" stroke-width="0.7"/>
<rect x="212.66" y="439.71" width="4.80" height="4.32" fill="none" stroke="#111" stroke-width="0.7"/>
<rect x="254.27" y="418.27" width="4.80" height="4.32" fill="none" stroke="#111" stroke-width="0.7"/>
<rect x="295.89" y="423.86" width="4.80" height="4.32" fill="none" stroke="#111" stroke-width="0.7"/>
<rect x="87.81" y="406.06" width="4.80" height="4.32" fill="none" stroke="#111" stroke-width="0.7"/><path d="M87.81 408.22H92.61M90.21 406.06V410.38" stroke="#111" stroke-width="0.73" fill="none"/>
<rect x="129.43" y="426.07" width="4.80" height="4.32" fill="none" stroke="#111" stroke-width="0.7"/><path d="M129.43 428.23H134.23M131.83 426.07V430.39" stroke="#111" stroke-width="0.73" fill="none"/>
<rect x="171.04" y="410.54" width="4.80" height="4.32" fill="none" stroke="#111" stroke-width="0.7"/><path d="M171.04 412.70H175.84M173.44 410.54V414.86" stroke="#111" stroke-width="0.73" fill="none"/>
<rect x="212.66" y="409.76" width="4.80" height="4.32" fill="none" stroke="#111" stroke-width="0.7"/><path d="M212.66 411.92H217.46M215.06 409.76V414.08" stroke="#111" stroke-width="0.73" fill="none"/>
<rect x="254.27" y="385.79" width="4.80" height="4.32" fill="none" stroke="#111" stroke-width="0.7"/><path d="M254.27 387.95H259.07M256.67 385.79V390.11" stroke="#111" stroke-width="0.73" fill="none"/>
<rect x="295.89" y="398.78" width="4.80" height="4.32" fill="none" stroke="#111" stroke-width="0.7"/><path d="M295.89 400.94H300.69M298.29 398.78V403.10" stroke="#111" stroke-width="0.73" fill="none"/>
<rect x="87.81" y="385.59" width="4.80" height="4.32" fill="none" stroke="#111" stroke-width="0.7"/><path d="M87.81 385.59L92.61 389.91M92.61 385.59L87.81 389.91" stroke="#111" stroke-width="0.73" fill="none"/>
<rect x="129.43" y="404.82" width="4.80" height="4.32" fill="none" stroke="#111" stroke-width="0.7"/><path d="M129.43 404.82L134.23 409.14M134.23 404.82L129.43 409.14" stroke="#111" stroke-width="0.73" fill="none"/>
<rect x="171.04" y="373.25" width="4.80" height="4.32" fill="none" stroke="#111" stroke-width="0.7"/><path d="M171.04 373.25L175.84 377.57M175.84 373.25L171.04 377.57" stroke="#111" stroke-width="0.73" fill="none"/>
<rect x="212.66" y="384.29" width="4.80" height="4.32" fill="none" stroke="#111" stroke-width="0.7"/><path d="M212.66 384.29L217.46 388.61M217.46 384.29L212.66 388.61" stroke="#111" stroke-width="0.73" fill="none"/>
<rect x="254.27" y="354.34" width="4.80" height="4.32" fill="none" stroke="#111" stroke-width="0.7"/><path d="M254.27 354.34L259.07 358.66M259.07 354.34L254.27 358.66" stroke="#111" stroke-width="0.73" fill="none"/>
<rect x="295.89" y="384.03" width="4.80" height="4.32" fill="none" stroke="#111" stroke-width="0.7"/><path d="M295.89 384.03L300.69 388.35M300.69 384.03L295.89 388.35" stroke="#111" stroke-width="0.73" fill="none"/>
<rect x="87.81" y="371.36" width="4.80" height="4.32" fill="none" stroke="#111" stroke-width="0.7"/><path d="M87.81 373.52H92.61" stroke="#111" stroke-width="0.73" fill="none"/>
<rect x="129.43" y="395.21" width="4.80" height="4.32" fill="none" stroke="#111" stroke-width="0.7"/><path d="M129.43 397.37H134.23" stroke="#111" stroke-width="0.73" fill="none"/>
<rect x="171.04" y="349.73" width="4.80" height="4.32" fill="none" stroke="#111" stroke-width="0.7"/><path d="M171.04 351.89H175.84" stroke="#111" stroke-width="0.73" fill="none"/>
<rect x="212.66" y="359.60" width="4.80" height="4.32" fill="none" stroke="#111" stroke-width="0.7"/><path d="M212.66 361.76H217.46" stroke="#111" stroke-width="0.73" fill="none"/>
<rect x="254.27" y="336.86" width="4.80" height="4.32" fill="none" stroke="#111" stroke-width="0.7"/><path d="M254.27 339.02H259.07" stroke="#111" stroke-width="0.73" fill="none"/>
<rect x="295.89" y="369.35" width="4.80" height="4.32" fill="none" stroke="#111" stroke-width="0.7"/><path d="M295.89 371.51H300.69" stroke="#111" stroke-width="0.73" fill="none"/>
<rect x="87.81" y="347.91" width="4.80" height="4.32" fill="none" stroke="#111" stroke-width="0.7"/><rect x="90.21" y="347.56" width="2.75" height="5.02" fill="#000"/>
<rect x="129.43" y="366.16" width="4.80" height="4.32" fill="none" stroke="#111" stroke-width="0.7"/><rect x="131.83" y="365.81" width="2.75" height="5.02" fill="#000"/>
<rect x="171.04" y="336.15" width="4.80" height="4.32" fill="none" stroke="#111" stroke-width="0.7"/><rect x="173.44" y="335.80" width="2.75" height="5.02" fill="#000"/>
<rect x="212.66" y="324.45" width="4.80" height="4.32" fill="none" stroke="#111" stroke-width="0.7"/><rect x="215.06" y="324.10" width="2.75" height="5.02" fill="#000"/>
<rect x="254.27" y="314.77" width="4.80" height="4.32" fill="none" stroke="#111" stroke-width="0.7"/><rect x="256.67" y="314.42" width="2.75" height="5.02" fill="#000"/>
<rect x="295.89" y="331.86" width="4.80" height="4.32" fill="none" stroke="#111" stroke-width="0.7"/><rect x="298.29" y="331.51" width="2.75" height="5.02" fill="#000"/>
<text x="51.6" y="291.2" font-size="7.0" font-family='"Liberation Sans", Arial, Helvetica, sans-serif' fill="#111">SiO<tspan font-size="4.6" dy="1.6">2</tspan></text>
<text x="73.6" y="291.2" font-size="7.0" font-family='"Liberation Sans", Arial, Helvetica, sans-serif' fill="#111">TiO<tspan font-size="4.6" dy="1.6">2</tspan></text>
<text y="291.2" font-size="7.0" font-family='"Liberation Sans", Arial, Helvetica, sans-serif' fill="#111"><tspan x="90.8" font-style="italic" fill="#333">ϕ</tspan><tspan x="95.0">,</tspan><tspan x="100.2">vol.(%)</tspan></text>
<path d="M50.2 300.3H54.5M61.9 300.3H66.3" stroke="#111" stroke-width="0.77" stroke-dasharray="1.5 1.55" fill="none"/>
<path d="M71 300.3H75.6M82.9 300.3H87.5" stroke="#111" stroke-width="0.65" fill="none"/>
<polygon points="58.40,297.54 61.30,302.14 55.50,302.14" fill="none" stroke="#111" stroke-width="0.7" stroke-linejoin="miter"/>
<rect x="77.00" y="298.14" width="4.80" height="4.32" fill="none" stroke="#111" stroke-width="0.7"/>
<text x="97.90" y="302.80" font-size="7.0" text-anchor="start" font-family='"Liberation Sans", Arial, Helvetica, sans-serif' fill="#111" stroke="#111" stroke-width="0.1" >0.01</text>
<path d="M50.2 309.2H54.5M61.9 309.2H66.3" stroke="#111" stroke-width="0.77" stroke-dasharray="1.5 1.55" fill="none"/>
<path d="M71 309.2H75.6M82.9 309.2H87.5" stroke="#111" stroke-width="0.65" fill="none"/>
<polygon points="58.40,306.44 61.30,311.04 55.50,311.04" fill="none" stroke="#111" stroke-width="0.7" stroke-linejoin="miter"/><path d="M55.10 309.40H61.70M58.40 306.24V311.84" stroke="#111" stroke-width="0.63" fill="none"/>
<rect x="77.00" y="307.04" width="4.80" height="4.32" fill="none" stroke="#111" stroke-width="0.7"/><path d="M77.00 309.20H81.80M79.40 307.04V311.36" stroke="#111" stroke-width="0.73" fill="none"/>
<text x="97.90" y="311.70" font-size="7.0" text-anchor="start" font-family='"Liberation Sans", Arial, Helvetica, sans-serif' fill="#111" stroke="#111" stroke-width="0.1" >0.03</text>
<path d="M50.2 318.1H54.5M61.9 318.1H66.3" stroke="#111" stroke-width="0.77" stroke-dasharray="1.5 1.55" fill="none"/>
<path d="M71 318.1H75.6M82.9 318.1H87.5" stroke="#111" stroke-width="0.65" fill="none"/>
<polygon points="58.40,315.34 61.30,319.94 55.50,319.94" fill="none" stroke="#111" stroke-width="0.7" stroke-linejoin="miter"/><path d="M55.20 315.04L61.60 320.84M61.60 315.04L55.20 320.84" stroke="#111" stroke-width="0.63" fill="none"/>
<rect x="77.00" y="315.94" width="4.80" height="4.32" fill="none" stroke="#111" stroke-width="0.7"/><path d="M77.00 315.94L81.80 320.26M81.80 315.94L77.00 320.26" stroke="#111" stroke-width="0.73" fill="none"/>
<text x="97.90" y="320.60" font-size="7.0" text-anchor="start" font-family='"Liberation Sans", Arial, Helvetica, sans-serif' fill="#111" stroke="#111" stroke-width="0.1" >0.05</text>
<path d="M50.2 327.0H54.5M61.9 327.0H66.3" stroke="#111" stroke-width="0.77" stroke-dasharray="1.5 1.55" fill="none"/>
<path d="M71 327.0H75.6M82.9 327.0H87.5" stroke="#111" stroke-width="0.65" fill="none"/>
<polygon points="58.40,324.24 61.30,328.84 55.50,328.84" fill="none" stroke="#111" stroke-width="0.7" stroke-linejoin="miter"/><path d="M56.47 327.30H60.33" stroke="#111" stroke-width="0.63" fill="none"/>
<rect x="77.00" y="324.84" width="4.80" height="4.32" fill="none" stroke="#111" stroke-width="0.7"/><path d="M77.00 327.00H81.80" stroke="#111" stroke-width="0.73" fill="none"/>
<text x="97.90" y="329.50" font-size="7.0" text-anchor="start" font-family='"Liberation Sans", Arial, Helvetica, sans-serif' fill="#111" stroke="#111" stroke-width="0.1" >0.07</text>
<path d="M50.2 335.9H54.5M61.9 335.9H66.3" stroke="#111" stroke-width="0.77" stroke-dasharray="1.5 1.55" fill="none"/>
<path d="M71 335.9H75.6M82.9 335.9H87.5" stroke="#111" stroke-width="0.65" fill="none"/>
<polygon points="58.40,333.14 61.30,337.74 55.50,337.74" fill="none" stroke="#111" stroke-width="0.7" stroke-linejoin="miter"/><polygon points="58.40,333.14 61.30,337.74 58.40,337.74" fill="#000"/>
<rect x="77.00" y="333.74" width="4.80" height="4.32" fill="none" stroke="#111" stroke-width="0.7"/><rect x="79.40" y="333.39" width="2.75" height="5.02" fill="#000"/>
<text x="97.90" y="338.40" font-size="7.0" text-anchor="start" font-family='"Liberation Sans", Arial, Helvetica, sans-serif' fill="#111" stroke="#111" stroke-width="0.1" >0.10</text>
</svg>
</body></html>
